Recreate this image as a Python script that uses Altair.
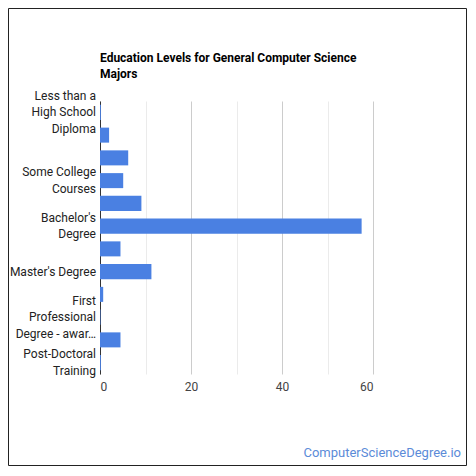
import altair as alt
import pandas as pd

categories = [
    "Less than a High School Diploma",
    "High School Diploma",
    "Post-Secondary Certificate",
    "Some College Courses",
    "Associate's Degree",
    "Bachelor's Degree",
    "Post-Baccalaureate Certificate",
    "Master's Degree",
    "Post-Master's Certificate",
    "First Professional Degree - awarded for completion of a program",
    "Doctoral Degree",
    "Post-Doctoral Training",
]
values = [0.2, 2.0, 6.2, 5.1, 9.1, 57.5, 4.5, 11.3, 0.7, 0.1, 4.5, 0.2]
shown_labels = [
    "Less than a\nHigh School\nDiploma", "", "", "Some College\nCourses", "",
    "Bachelor's\nDegree", "", "Master's Degree", "",
    "First\nProfessional\nDegree - awar\u2026", "", "Post-Doctoral\nTraining",
]
x_ticks = [0, 10, 20, 30, 40, 50, 60]
title_text = "Education Levels for General Computer Science\nMajors"
watermark = "ComputerScienceDegree.io"

df = pd.DataFrame({"category": categories, "value": values, "label": shown_labels})

W, H = 273, 273
PL, PT, PR, PB = 92, 93, 94, 93
LH = 16.5
HALF_BAND = 7.5

y_enc = alt.Y(
    "category:N",
    sort=categories,
    scale=alt.Scale(paddingInner=0.34, paddingOuter=0.17),
    axis=alt.Axis(labels=False, ticks=False, domain=True, domainColor="#333333",
                  domainWidth=1, title=None, grid=False),
)

x_enc = alt.X(
    "value:Q",
    scale=alt.Scale(domain=[0, 60], nice=False),
    axis=alt.Axis(
        values=x_ticks,
        labelExpr="datum.value % 20 === 0 ? datum.label : ''",
        gridColor={"condition": {"test": "datum.value % 20 === 0", "value": "#cccccc"},
                   "value": "#ebebeb"},
        domain=False, ticks=False, title=None, labelPadding=7,
        labelFontSize=12, labelColor="#444444", labelFont="Roboto",
    ),
)

bars = alt.Chart(df).mark_bar(color="#4a80e2").encode(x=x_enc, y=y_enc)

labels = alt.Chart(df).transform_calculate(
    off=f"{HALF_BAND} - (length(split(datum.label, '\\n')) - 1) * {LH / 2}"
).mark_text(
    align="right", baseline="middle", lineBreak="\n", lineHeight=LH,
    font="Roboto", fontSize=12, color="#222222",
).encode(
    y=y_enc, x=alt.value(-4), text="label:N",
    yOffset=alt.YOffset("off:Q", scale=None),
)

one = pd.DataFrame({"t": [title_text], "w": [watermark]})

title = alt.Chart(one).mark_text(
    align="left", baseline="middle", lineBreak="\n", lineHeight=16,
    font="Roboto", fontSize=12, fontWeight="bold", color="#000000",
).encode(x=alt.value(0), y=alt.value(-43), text="t:N")

wm = alt.Chart(one).mark_text(
    align="right", baseline="middle", font="Roboto", fontSize=13, color="#5b8bd8",
).encode(x=alt.value(361), y=alt.value(352), text="w:N")

frame = alt.Chart(one).mark_rect(fillOpacity=0, stroke="#222222", strokeWidth=1).encode(
    x=alt.value(-91.5), x2=alt.value(366.5), y=alt.value(-92.5), y2=alt.value(364.5)
)

chart = alt.layer(bars, labels, title, wm, frame).properties(
    width=W, height=H,
    autosize=alt.AutoSizeParams(type="none"),
    padding={"left": PL, "top": PT, "right": PR, "bottom": PB},
    background="white",
).configure_view(stroke=None)

chart.save("out.html", embed_options={"renderer": "svg", "actions": False})
